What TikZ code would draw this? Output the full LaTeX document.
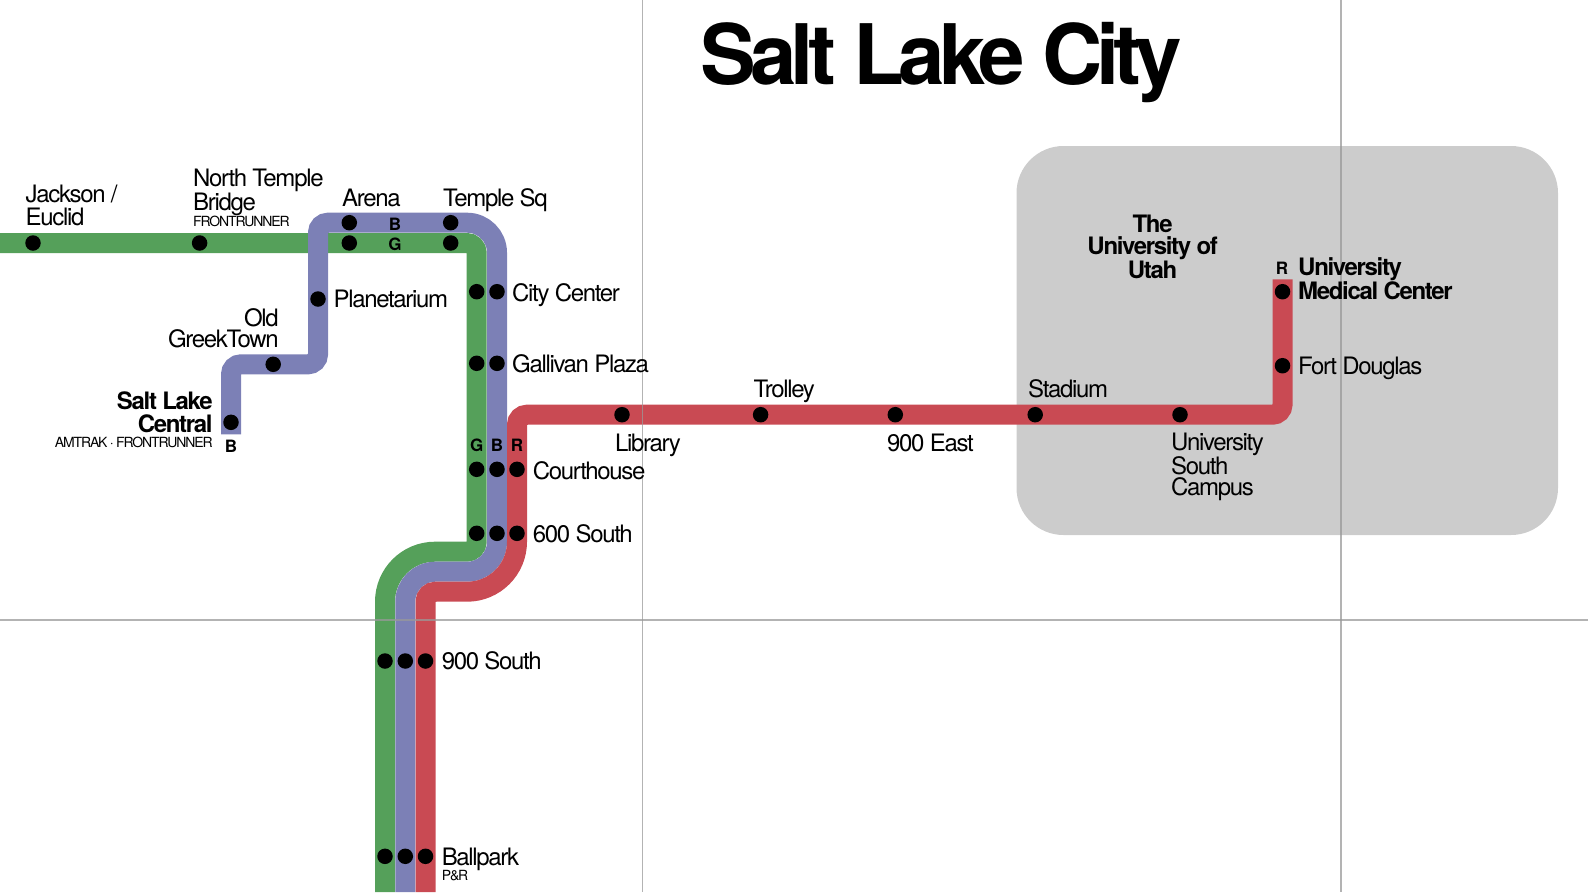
\documentclass[tikz,border=0pt]{standalone}
\usepackage{fontspec}
\setmainfont[LetterSpace=-5.6]{TeX Gyre Heros}
\newfontfamily\titlefont[LetterSpace=-7]{TeX Gyre Heros}
\newfontfamily\tinyfont[LetterSpace=-8]{TeX Gyre Heros}
\usetikzlibrary{backgrounds}
\definecolor{linegreen}{HTML}{55A05A}
\definecolor{lineblue}{HTML}{7C80B6}
\definecolor{linered}{HTML}{C94A53}
\definecolor{campus}{HTML}{CCCCCC}
\tikzset{
  stopdot/.style={circle,fill=black,inner sep=0pt,minimum size=15.5pt},
  route/.style={line width=20pt},
  gridline/.style={line width=1.6pt,black!40,opacity=0.75},
  stoplabel/.style={inner sep=0pt,font=\fontsize{24}{21}\selectfont},
  boldlabel/.style={inner sep=0pt,font=\fontsize{24}{22.5}\selectfont\bfseries},
  smalllabel/.style={inner sep=0pt,font=\tinyfont\fontsize{14}{16}\selectfont},
  linecode/.style={inner sep=0pt,font=\fontsize{17}{18}\selectfont\bfseries},
}
\begin{document}
\begin{tikzpicture}[x=1pt,y=-1pt]
  \useasboundingbox (0,0) rectangle (1588,892);

  % stops
  \foreach \x/\y/\name in {33/243/jackson,199.6/243/northtemple,349.3/243/arenaG,450.7/243/templeG,
      349.3/222.7/arenaB,450.7/222.7/templeB,318/299/planetarium,273.2/364.3/greektown,231/422.3/central,
      476.7/291.7/cityG,497/291.7/cityB,476.7/363.3/gallivanG,497/363.3/gallivanB,
      476.7/469.3/courtG,497/469.3/courtB,517/469.3/courtR,
      476.7/533.3/sixG,497/533.3/sixB,517/533.3/sixR,
      385/661/nineG,405.3/661/nineB,425.5/661/nineR,
      385/856.3/ballG,405.3/856.3/ballB,425.5/856.3/ballR,
      622/414.7/library,760.6/414.7/trolley,895.3/414.7/nineeast,1035.2/414.7/stadium,1180/414.7/southcampus,
      1282.5/365.7/fortdouglas,1282.5/291.7/medical}
    \node[stopdot] (\name) at (\x,\y) {};

  % free ends and bends of the routes
  \foreach \x/\y/\name in {0/243/greenstart,476.7/243/greenA,476.7/551.7/greenB,385/551.7/greenC,385/892/greenend,
      231/434.3/bluestart,231/364.3/blueA,318/364.3/blueB,318/222.7/blueC,497/222.7/blueD,497/571.7/blueE,
      405.3/571.7/blueF,405.3/892/blueend,
      1282.5/279.3/redstart,1282.5/414.7/redA,517/414.7/redB,517/591.7/redC,425.5/591.7/redD,425.5/892/redend}
    \coordinate (\name) at (\x,\y);

  % names of stops and lines
  \node[stoplabel,font=\fontsize{24}{23}\selectfont,anchor=west,align=left] (lblJackson) at (25.5,205.6) {Jackson /\\Euclid};
  \node[stoplabel,anchor=west,align=left] (lblBridge) at (193,192.5) {North Temple\\Bridge};
  \node[smalllabel,anchor=west] (lblFront) at (193,221) {FRONTRUNNER};
  \node[stoplabel,anchor=west] (lblArena) at (342,197.5) {Arena};
  \node[stoplabel,anchor=west] (lblTemple) at (443,200) {Temple Sq};
  \node[stoplabel,anchor=west] (lblPlanet) at (333.5,298.8) {Planetarium};
  \node[stoplabel,anchor=east,align=right] (lblGreek) at (279,328.6) {Old\\GreekTown};
  \node[boldlabel,anchor=east,align=right] (lblCentral) at (212.8,412) {Salt Lake\\Central};
  \node[smalllabel,anchor=east] (lblAmtrak) at (212.8,442.6) {AMTRAK\,·\,FRONTRUNNER};
  \node[stoplabel,anchor=west] (lblCity) at (512,294.7) {City Center};
  \node[stoplabel,anchor=west] (lblGallivan) at (512,363.6) {Gallivan Plaza};
  \node[stoplabel,anchor=west] (lblCourt) at (532.7,471) {Courthouse};
  \node[stoplabel,anchor=west] (lblSix) at (532.7,533.7) {600 South};
  \node[stoplabel,anchor=west] (lblNine) at (441.6,661) {900 South};
  \node[stoplabel,anchor=west] (lblBall) at (441.6,859.8) {Ballpark};
  \node[smalllabel,anchor=west] (lblPark) at (441.6,876) {P\&R};
  \node[stoplabel,anchor=west] (lblLibrary) at (614.8,445.6) {Library};
  \node[stoplabel,anchor=west] (lblTrolley) at (753.5,391) {Trolley};
  \node[stoplabel,anchor=west] (lblEast) at (887,442.6) {900 East};
  \node[stoplabel,anchor=west] (lblStadium) at (1028,389) {Stadium};
  \node[stoplabel,anchor=west,align=left] (lblSouth) at (1171,467) {University\\South\\Campus};
  \node[stoplabel,anchor=west] (lblFort) at (1298,368.6) {Fort Douglas};
  \node[boldlabel,anchor=west,align=left] (lblMedical) at (1298,279) {University\\Medical Center};
  \node[boldlabel,align=center] (lblUtah) at (1152.6,247) {The\\University of\\Utah};
  \node[inner sep=0pt,anchor=west,font=\titlefont\fontsize{83.5}{84}\selectfont\bfseries] (title) at (700,63) {Salt Lake City};

  \node[linecode] (codeB) at (395,224) {B};
  \node[linecode] (codeG) at (395,244.5) {G};
  \node[linecode] (codeBc) at (231,446.5) {B};
  \node[linecode] (codeGs) at (476.7,445) {G};
  \node[linecode] (codeBs) at (497,445) {B};
  \node[linecode] (codeRs) at (517,445) {R};
  \node[linecode] (codeRm) at (1282,268.4) {R};

  \begin{scope}[on background layer]
    \fill[campus,rounded corners=47pt] (1016.5,146) rectangle (1558,535);

    \draw[route,linegreen,rounded corners=10pt] (greenstart) -- (greenA) -- (greenB)
      [rounded corners=50pt] -- (greenC) -- (greenend);
    \draw[route,lineblue,rounded corners=10pt] (bluestart) -- (blueA) -- (blueB) -- (blueC)
      [rounded corners=30pt] -- (blueD) -- (blueE) -- (blueF) -- (blueend);
    \draw[route,linered,rounded corners=10pt] (redstart) -- (redA) -- (redB)
      [rounded corners=50pt] -- (redC) [rounded corners=10pt] -- (redD) -- (redend);

    \draw[gridline] (642.5,0) -- (642.5,892);
    \draw[gridline] (1341,0) -- (1341,892);
    \draw[gridline] (0,620) -- (1588,620);
  \end{scope}
\end{tikzpicture}
\end{document}
